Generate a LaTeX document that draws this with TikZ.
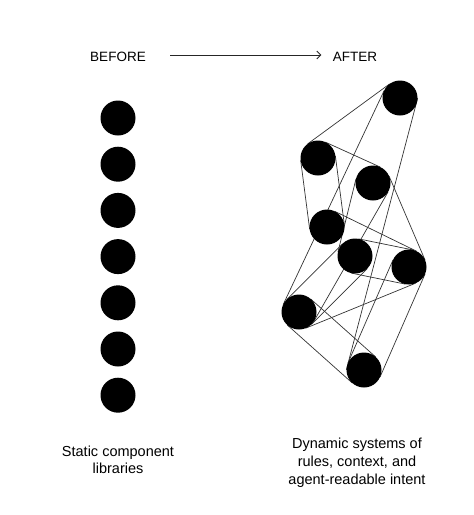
\documentclass[tikz,border=0pt]{standalone}
\usepackage{fontspec}
\setmainfont{Liberation Sans}
\usetikzlibrary{calc,backgrounds,arrows.meta}

\begin{document}
\begin{tikzpicture}[x=1pt, y=-1pt,
		dot/.style={circle, fill=black, minimum size=35pt, inner sep=0pt},
		link/.style={draw=black!80, line width=0.7pt},
		caption/.style={align=center, font=\fontsize{14.5}{#1}\selectfont}]
	\useasboundingbox (0,0) rectangle (474,515);
	\node[font=\fontsize{13.5}{15}\selectfont] (before) at (118,57) {BEFORE};
	\node[font=\fontsize{13.5}{15}\selectfont] (after) at (355,57) {AFTER};
	\draw[line width=0.8pt, black!85, -{Straight Barb[length=4pt, width=8pt]}, shorten <=21pt, shorten >=8pt] ([yshift=2pt]before.east) -- ([yshift=2pt]after.west);
	% static column
	\foreach \i in {0,...,6}
		\node[dot] (s\i) at (118, 118+46.2*\i) {};
	% dynamic cluster
	\node[dot] (a) at (400,98) {};
	\node[dot] (b) at (318,158) {};
	\node[dot] (c) at (373,183) {};
	\node[dot] (d) at (327,227) {};
	\node[dot] (e) at (355,256) {};
	\node[dot] (f) at (409,267) {};
	\node[dot] (g) at (299,312) {};
	\node[dot] (h) at (364,370) {};
	\begin{scope}[on background layer]
		\foreach \p/\q/\s/\t in {a/b/-90/90, a/g/-90/90, b/c/90/-90, b/d/90/-90, b/d/-90/90,
				c/f/90/-90, c/e/-90/90, c/g/90/-90, d/f/90/-90, e/f/90/-90, e/f/-90/90,
				g/e/90/-90, g/e/-90/90, g/f/-90/90, g/h/90/-90, g/h/-90/90, f/h/90/-90, f/h/-90/90}
			\draw[link] ($(\p)!17.5pt!\s:(\q)$) -- ($(\q)!17.5pt!\t:(\p)$);
		\draw[link] (a.east) -- (h.west);
	\end{scope}
	\node[caption=17] (static) at (118,460) {Static component\\libraries};
	\node[caption=18] (dynamic) at (357,463) {Dynamic systems of\\rules, context, and\\agent-readable intent};
\end{tikzpicture}
\end{document}
